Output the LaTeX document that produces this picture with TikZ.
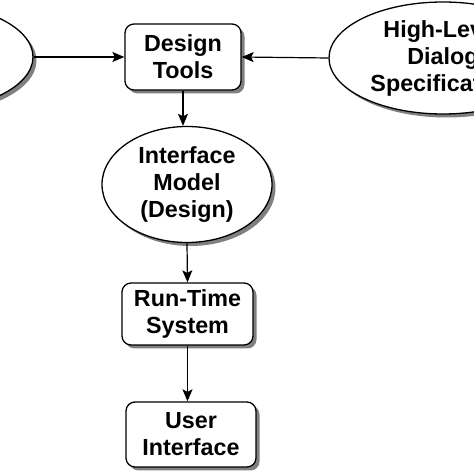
\documentclass[tikz,border=0pt]{standalone}
\usepackage{fontspec}
\setmainfont{Liberation Sans}
\usetikzlibrary{shapes.geometric,shadows,arrows.meta}
\begin{document}
\begin{tikzpicture}[x=1pt,y=1pt,
  base/.style={draw=black,line width=1.3pt,fill=white,
    drop shadow={shadow xshift=3.5pt,shadow yshift=-3.5pt,fill=black!50,opacity=1},
    font=\fontsize{23.3}{27}\selectfont\bfseries,align=center,inner sep=0pt},
  boxnode/.style={base,rectangle,rounded corners=9pt},
  ellnode/.style={base,ellipse},
  conn/.style={line width=1.2pt,-{Stealth[length=12pt,width=10pt,inset=2.5pt]}}]
\useasboundingbox (0,0) rectangle (474,474);
\clip (0,0) rectangle (474,474);
\fill[white] (0,0) rectangle (474,474);
\node[ellnode,minimum width=222pt,minimum height=108pt] (L) at (-78,417) {};
\node[boxnode,minimum width=116pt,minimum height=66pt] (DT) at (183,417) {Design\\Tools};
\node[ellnode,minimum width=228pt,minimum height=112pt] (R) at (443,416) {High-Level\\Dialog\\Specification};
\node[ellnode,minimum width=170pt,minimum height=116pt] (IM) at (187,289.5) {Interface\\Model\\(Design)};
\node[boxnode,minimum width=131pt,minimum height=62pt] (RT) at (187.5,160) {Run-Time\\System};
\node[boxnode,minimum width=130pt,minimum height=65pt] (UI) at (191,39.5) {User\\Interface};
\draw[conn] (L.east) -- (DT.west);
\draw[conn] (R.west) -- (DT.east);
\draw[conn] (DT.south) -- (DT.south |- IM.north);
\draw[conn] (IM.south) -- (RT.north);
\draw[conn] (RT.south) -- (RT.south |- UI.north);
\end{tikzpicture}
\end{document}
